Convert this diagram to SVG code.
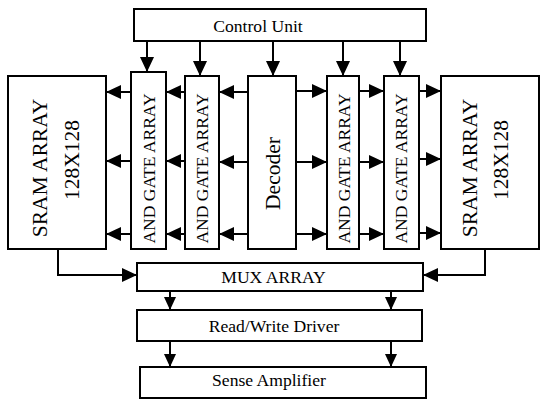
<svg xmlns="http://www.w3.org/2000/svg" width="550" height="404" viewBox="0 0 550 404" font-family="'Liberation Serif', 'Times New Roman', 'DejaVu Serif', serif">
<defs>
<marker id="ah" markerUnits="userSpaceOnUse" markerWidth="15" markerHeight="14" refX="15" refY="7" orient="auto">
<path d="M0,0 L15,7 L0,14 z" fill="#000"/>
</marker>
<marker id="ahs" markerUnits="userSpaceOnUse" markerWidth="13" markerHeight="12" refX="13" refY="6" orient="auto">
<path d="M0,0 L13,6 L0,12 z" fill="#000"/>
</marker>
<style>
rect{fill:#fff;stroke:#000;stroke-width:2}
text{fill:#000;text-anchor:middle}
.c{fill:none;stroke:#000;stroke-width:2;marker-end:url(#ah)}
.s{fill:none;stroke:#000;stroke-width:2;marker-end:url(#ahs)}
.h{font-size:17.6px}
.big{font-size:21.5px}
.and{font-size:17.5px}
</style>
</defs>
<g id="connectors">
<path class="c" d="M147,41 V72"/>
<path class="c" d="M200,41 V76"/>
<path class="c" d="M273,41 V76"/>
<path class="c" d="M343,41 V76"/>
<path class="c" d="M400,41 V76"/>
<path class="c" d="M248,92 H219"/>
<path class="c" d="M185,92 H166"/>
<path class="c" d="M131,92 H106"/>
<path class="c" d="M248,162 H219"/>
<path class="c" d="M185,161 H166"/>
<path class="c" d="M131,161 H106"/>
<path class="c" d="M248,234 H219"/>
<path class="c" d="M185,234 H166"/>
<path class="c" d="M131,234 H106"/>
<path class="c" d="M296,91 H327"/>
<path class="c" d="M359,91 H384"/>
<path class="c" d="M419,91 H441"/>
<path class="c" d="M296,162 H327"/>
<path class="c" d="M359,162 H384"/>
<path class="c" d="M419,159 H441"/>
<path class="c" d="M296,234 H327"/>
<path class="c" d="M359,234 H384"/>
<path class="c" d="M419,233 H441"/>
<path class="c" d="M58,249 V275 H137"/>
<path class="c" d="M485,249 V275 H423"/>
<path class="s" d="M170,291 V310"/>
<path class="s" d="M391,291 V310"/>
<path class="s" d="M170,341 V367"/>
<path class="s" d="M391,341 V367"/>
</g>
<g id="control-unit">
<rect x="134" y="9" width="292" height="32"/>
<text class="h" x="258" y="32">Control Unit</text>
</g>
<g id="sram-left">
<rect x="8" y="76" width="98" height="173"/>
<text class="big" transform="translate(47,168) rotate(-90)">SRAM ARRAY</text>
<text class="big" transform="translate(79,160) rotate(-90)">128X128</text>
</g>
<g id="and-1">
<rect x="131" y="72" width="35" height="177"/>
<text class="and" transform="translate(154.5,168.5) rotate(-90)">AND GATE ARRAY</text>
</g>
<g id="and-2">
<rect x="185" y="76" width="34" height="173"/>
<text class="and" transform="translate(208,168.5) rotate(-90)">AND GATE ARRAY</text>
</g>
<g id="decoder">
<rect x="248" y="76" width="48" height="173"/>
<text class="big" transform="translate(280,173.5) rotate(-90)">Decoder</text>
</g>
<g id="and-3">
<rect x="327" y="76" width="32" height="173"/>
<text class="and" transform="translate(350,168.5) rotate(-90)">AND GATE ARRAY</text>
</g>
<g id="and-4">
<rect x="384" y="76" width="35" height="173"/>
<text class="and" transform="translate(407,168.5) rotate(-90)">AND GATE ARRAY</text>
</g>
<g id="sram-right">
<rect x="441" y="76" width="98" height="173"/>
<text class="big" transform="translate(477,168) rotate(-90)">SRAM ARRAY</text>
<text class="big" transform="translate(508,160) rotate(-90)">128X128</text>
</g>
<g id="mux-array">
<rect x="137" y="263" width="286" height="28"/>
<text class="h" x="273.5" y="283">MUX ARRAY</text>
</g>
<g id="rw-driver">
<rect x="137" y="310" width="285" height="31"/>
<text class="h" x="274" y="332">Read/Write Driver</text>
</g>
<g id="sense-amp">
<rect x="140" y="367" width="286" height="31"/>
<text class="h" x="269" y="386">Sense Amplifier</text>
</g>
</svg>
